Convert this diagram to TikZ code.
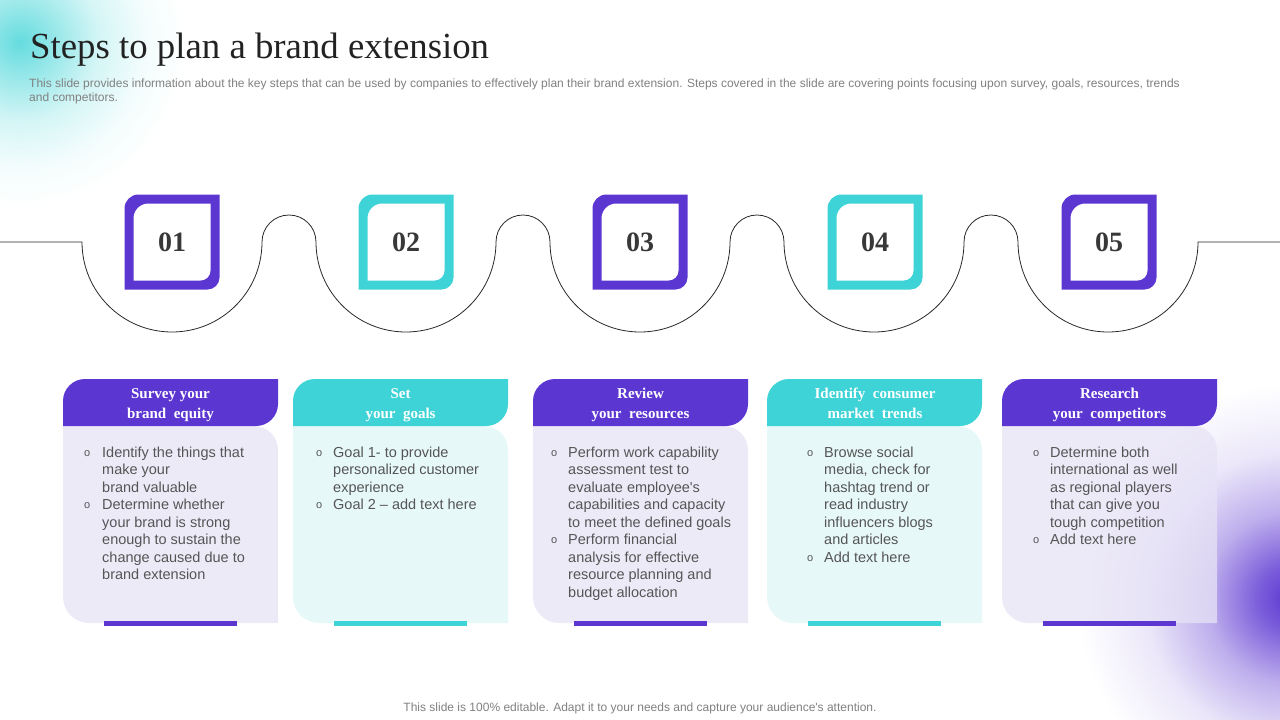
\documentclass[tikz,border=0pt]{standalone}
\usepackage{fontspec}
\setmainfont{Liberation Serif}
\newfontfamily\arialf{Liberation Sans}
\usetikzlibrary{shadings}
\definecolor{pc}{RGB}{91,54,209}
\definecolor{tc}{RGB}{62,211,214}
\definecolor{bpc}{RGB}{231,227,246}
\definecolor{btc}{RGB}{223,246,247}
\definecolor{bodygray}{RGB}{85,85,85}
\definecolor{titlec}{RGB}{34,34,34}
\definecolor{subc}{RGB}{128,128,128}
\definecolor{wavec}{RGB}{40,40,40}
\colorlet{gT0}{tc!80!white}
\colorlet{gT1}{tc!55!white}
\colorlet{gT2}{tc!22!white}
\colorlet{gT3}{tc!6!white}
\colorlet{gP0}{pc!100!white}
\colorlet{gP1}{pc!80!white}
\colorlet{gP2}{pc!40!white}
\colorlet{gP3}{pc!12!white}
\pgfdeclareradialshading{glowT}{\pgfpoint{0bp}{0bp}}{color(0bp)=(gT0); color(5bp)=(gT1); color(12bp)=(gT2); color(19bp)=(gT3); color(25bp)=(white); color(50bp)=(white)}
\pgfdeclareradialshading{glowP}{\pgfpoint{0bp}{0bp}}{color(0bp)=(gP0); color(4bp)=(gP1); color(10bp)=(gP2); color(17bp)=(gP3); color(25bp)=(white); color(50bp)=(white)}
\newcommand\bul{\raisebox{1pt}{\fontsize{11}{10}\selectfont o}}
\tikzset{
  wave/.style={draw=wavec, line width=0.8pt},
  bodytxt/.style={anchor=base west, inner sep=0pt, text=bodygray, font=\arialf\fontsize{14.5}{17.5}\selectfont},
  headtxt/.style={anchor=base, inner sep=0pt, text=white, font=\bfseries\fontsize{15}{20}\selectfont},
  numtxt/.style={inner sep=0pt, text=titlec!90, font=\bfseries\fontsize{28}{28}\selectfont},
  smalltxt/.style={inner sep=0pt, text=subc, font=\arialf\fontsize{12}{14}\selectfont},
}
\begin{document}
\begin{tikzpicture}[x=1pt,y=-1pt]
\useasboundingbox (0,0) rectangle (1280,720);
% glows
\begin{scope}
\clip (0,0) rectangle (1280,720);
\shade[shading=glowT] (20,42) circle (165);
\shade[shading=glowP] (1292,598) circle (215);
\end{scope}
% title and subtitle
\node[anchor=base west, inner sep=0pt, text=titlec, font=\fontsize{36.8}{36}\selectfont] (title) at (30,58) {Steps to plan a brand extension};
\node[smalltxt, anchor=base west] (sub) at (29,87) {\begin{tabular}[t]{@{}l@{}}This slide provides information about the key steps that can be used by companies to effectively plan their brand extension. Steps covered in the slide are covering points focusing upon survey, goals, resources, trends\\ and competitors.\end{tabular}};
% wave line
\draw[wave] (0,242) -- (82,242) arc (180:0:90) arc (180:360:27) arc (180:0:90) arc (180:360:27) arc (180:0:90) arc (180:360:27) arc (180:0:90) arc (180:360:27) arc (180:0:90) -- (1280,242);
% number boxes
\foreach \cx/\col/\n in {172/pc/01, 406/tc/02, 640/pc/03, 875/tc/04, 1109/pc/05}{
  \fill[\col] (\cx-47.5,289.5) -- (\cx-47.5,208.5) arc (180:270:14) -- (\cx+47.5,194.5) -- (\cx+47.5,277.5) arc (0:90:12) -- cycle;
  \fill[white] (\cx-38.5,280.5) -- (\cx-38.5,218.5) arc (180:270:15) -- (\cx+38.5,203.5) -- (\cx+38.5,270.5) arc (0:90:10) -- cycle;
  \node[numtxt] (n\n) at (\cx,242) {\n};
}
% cards
\foreach \L/\hc/\bc in {63/pc/bpc, 293/tc/btc, 533/pc/bpc, 767/tc/btc, 1002/pc/bpc}{
  \fill[\bc, fill opacity=0.75] (\L,426) -- (\L+191,426) arc (270:360:24) -- (\L+215,623) -- (\L+26,623) arc (90:180:26) -- cycle;
  \fill[\hc] (\L,426) -- (\L,401) arc (180:270:22) -- (\L+215,379) -- (\L+215,404) arc (0:90:22) -- cycle;
  \fill[\hc] (\L+41,621) rectangle (\L+174,626);
}
% header texts
\node[headtxt] (h1) at (170.5,398) {\begin{tabular}[t]{@{}c@{}}Survey your\\ brand~ equity\end{tabular}};
\node[headtxt] (h2) at (400.5,398) {\begin{tabular}[t]{@{}c@{}}Set\\ your~ goals\end{tabular}};
\node[headtxt] (h3) at (640.5,398) {\begin{tabular}[t]{@{}c@{}}Review\\ your~ resources\end{tabular}};
\node[headtxt] (h4) at (875,398) {\begin{tabular}[t]{@{}c@{}}Identify~ consumer\\ market~ trends\end{tabular}};
\node[headtxt] (h5) at (1109.5,398) {\begin{tabular}[t]{@{}c@{}}Research\\ your~ competitors\end{tabular}};
% body texts
\node[bodytxt] (b1) at (84,457) {\begin{tabular}[t]{@{}p{18pt}@{}l@{}}\bul & Identify the things that\\ & make your\\ & brand valuable\\ \bul & Determine whether\\ & your brand is strong\\ & enough to sustain the\\ & change caused due to\\ & brand extension\end{tabular}};
\node[bodytxt] (b2) at (316,457) {\begin{tabular}[t]{@{}p{17pt}@{}l@{}}\bul & Goal 1- to provide\\ & personalized customer\\ & experience\\ \bul & Goal 2 \textendash{} add text here\end{tabular}};
\node[bodytxt] (b3) at (551,457) {\begin{tabular}[t]{@{}p{17pt}@{}l@{}}\bul & Perform work capability\\ & assessment test to\\ & evaluate employee's\\ & capabilities and capacity\\ & to meet the defined goals\\ \bul & Perform financial\\ & analysis for effective\\ & resource planning and\\ & budget allocation\end{tabular}};
\node[bodytxt] (b4) at (807,457) {\begin{tabular}[t]{@{}p{17pt}@{}l@{}}\bul & Browse social\\ & media, check for\\ & hashtag trend or\\ & read industry\\ & influencers blogs\\ & and articles\\ \bul & Add text here\end{tabular}};
\node[bodytxt] (b5) at (1033,457) {\begin{tabular}[t]{@{}p{17pt}@{}l@{}}\bul & Determine both\\ & international as well\\ & as regional players\\ & that can give you\\ & tough competition\\ \bul & Add text here\end{tabular}};
% footer
\node[smalltxt, anchor=base] (foot) at (640,711) {This slide is 100\% editable. Adapt it to your needs and capture your audience's attention.};
\end{tikzpicture}
\end{document}
